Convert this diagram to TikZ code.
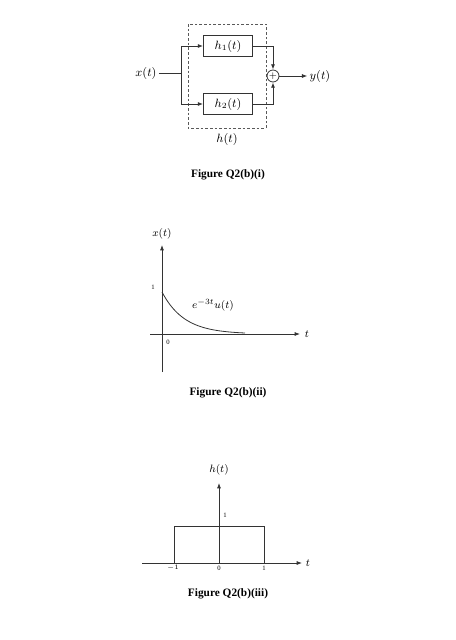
\documentclass[tikz,border=0pt]{standalone}
\usepackage{fontspec}
\setmainfont{Liberation Serif}
\usetikzlibrary{arrows.meta}
\begin{document}
\begin{tikzpicture}[x=0.75pt,y=-0.75pt,
  line width=0.6pt, draw=black!80,
  arr/.style={-{Latex[length=4pt,width=3pt]}},
  blk/.style={draw=black!80, minimum width=36.75pt, minimum height=16pt, inner sep=0pt, font=\fontsize{9}{11}\selectfont},
  lbl/.style={inner sep=1.5pt, font=\fontsize{9}{11}\selectfont},
  slbl/.style={inner sep=0pt, font=\fontsize{8}{10}\selectfont},
  tinylbl/.style={inner sep=0pt, font=\fontsize{5}{6}\selectfont},
  figcap/.style={inner sep=0pt, font=\fontsize{8.5}{10}\selectfont\bfseries}]
\useasboundingbox (0,0) rectangle (456,640);
% ---------- Figure (i) ----------
\draw[black!65, dash pattern=on 2pt off 1.5pt] (188,24) rectangle (266,128);
\node[blk] (h1) at (228,46) {$h_1(t)$};
\node[blk] (h2) at (228,104) {$h_2(t)$};
\node[lbl] (x) at (146,73) {$x(t)$};
\node[draw=black!80, circle, minimum size=9pt, inner sep=0pt] (s) at (273,76) {};
\node[inner sep=0pt, font=\fontsize{7}{8}\selectfont] at (s) {$+$};
\node[lbl] (y) at (320,76) {$y(t)$};
\node[lbl] (h) at (227,139) {$h(t)$};
\coordinate (b) at (181,73);
\coordinate (b1) at (181,46);
\coordinate (b2) at (181,104);
\draw (x.east) -- (b);
\draw[arr] (b) -- (b1) -- (h1.west);
\draw[arr] (b) -- (b2) -- (h2.west);
\coordinate (c1) at (273,46);
\coordinate (c2) at (273,104);
\draw[arr] (h1.east) -- (c1) -- (s.north);
\draw[arr] (h2.east) -- (c2) -- (s.south);
\draw[arr] (s.east) -- (y.west);
\node[figcap] (cap1) at (228,175) {Figure Q2(b)(i)};
% ---------- Figure (ii) ----------
\coordinate (o2) at (162,334);
\coordinate (yb2) at (162,372);
\coordinate (yt2) at (162,245);
\coordinate (xl2) at (150,334);
\coordinate (xr2) at (300,334);
\draw[arr] (yb2) -- (yt2);
\draw[arr] (xl2) -- (xr2);
\node[slbl] (xt) at (162,234) {$x(t)$};
\node[slbl] (t2) at (307,334) {$t$};
\node[tinylbl] (one2) at (153,287) {1};
\node[tinylbl] (zero2) at (168,342) {0};
\draw[domain=162:245, samples=60, smooth] plot (\x, {334-42*exp(-0.045*(\x-162))});
\node[slbl] (e) at (213,305) {$e^{-3t}u(t)$};
\node[figcap] (cap2) at (228,393) {Figure Q2(b)(ii)};
% ---------- Figure (iii) ----------
\coordinate (yb3) at (219,563);
\coordinate (yt3) at (219,483);
\coordinate (xl3) at (142,563);
\coordinate (xr3) at (302,563);
\draw[arr] (yb3) -- (yt3);
\draw[arr] (xl3) -- (xr3);
\draw (174,563) -- (174,526) -- (264,526) -- (264,563);
\node[slbl] (ht) at (219,470) {$h(t)$};
\node[slbl] (t3) at (308,563) {$t$};
\node[tinylbl] (one3) at (225,515) {1};
\node[tinylbl] (m1) at (173,568) {$-1$};
\node[tinylbl] (z3) at (219,568) {0};
\node[tinylbl] (p1) at (264,568) {1};
\node[figcap] (cap3) at (228,594) {Figure Q2(b)(iii)};
\end{tikzpicture}
\end{document}
